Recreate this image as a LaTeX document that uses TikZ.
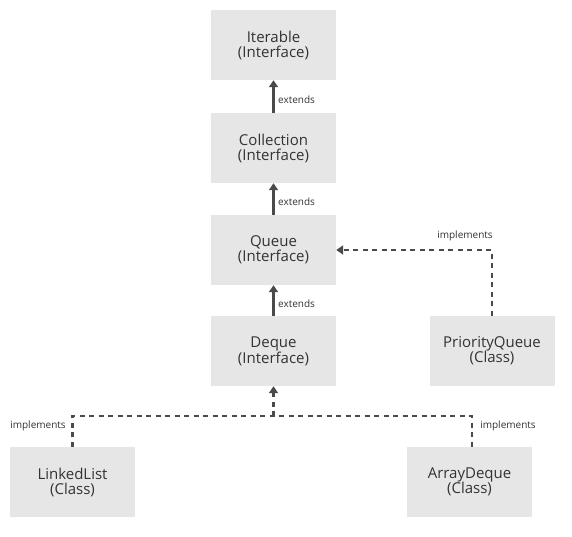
\documentclass[tikz,border=0pt]{standalone}
\usepackage{fontspec}
\setmainfont{Open Sans}
\usetikzlibrary{arrows.meta}
\definecolor{boxgray}{HTML}{E6E6E6}
\definecolor{linegray}{HTML}{4A4A4A}
\definecolor{textgray}{HTML}{333333}
\tikzset{
  typebox/.style={fill=boxgray, minimum width=125pt, minimum height=70pt, inner sep=0pt,
    align=center, text=textgray, font=\fontsize{15}{15}\selectfont},
  extendsarrow/.style={draw=linegray, line width=2.6pt, -{Triangle[length=7pt,width=9pt]}},
  implementsline/.style={draw=linegray, line width=2.6pt, dash pattern=on 5pt off 4.5pt},
  implementsarrow/.style={implementsline, -{Triangle[length=7pt,width=9pt]}},
  edgelabel/.style={text=textgray, font=\fontsize{10}{11}\selectfont}
}
\begin{document}
\begin{tikzpicture}[x=1pt, y=-1pt]
\useasboundingbox (0,0) rectangle (572,537);

% interfaces
\node[typebox] (iterable) at (273.5, 45) {Iterable\\(Interface)};
\node[typebox] (collection) at (273.5, 148) {Collection\\(Interface)};
\node[typebox] (queue) at (273.5, 250) {Queue\\(Interface)};
\node[typebox] (deque) at (273.5, 351) {Deque\\(Interface)};

% classes
\node[typebox] (pqueue) at (492, 351) {PriorityQueue\\(Class)};
\node[typebox] (linkedlist) at (72.5, 482) {LinkedList\\(Class)};
\node[typebox] (arraydeque) at (469.5, 482) {ArrayDeque\\(Class)};

% extends
\draw[extendsarrow] (collection) -- (iterable) node[edgelabel, right, pos=0.4] {extends};
\draw[extendsarrow] (queue) -- (collection) node[edgelabel, right, pos=0.4] {extends};
\draw[extendsarrow] (deque) -- (queue) node[edgelabel, right, pos=0.4] {extends};

% implements
\draw[implementsarrow] (pqueue.north) |- (queue.east);
\node[edgelabel] (pqlabel) at (465, 236) {implements};

\coordinate (split) at (273.5, 416);
\draw[implementsline] (linkedlist.north) |- (split) -| ([xshift=2.5pt]arraydeque.north);
\draw[implementsarrow] (split) -- (deque.south);
\node[edgelabel] (lllabel) at (38, 426) {implements};
\node[edgelabel] (adlabel) at (508, 426) {implements};
\end{tikzpicture}
\end{document}
